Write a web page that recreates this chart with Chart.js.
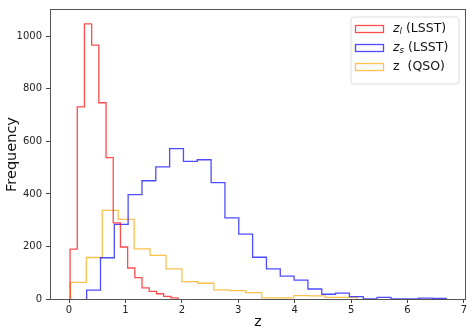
<!DOCTYPE html>
<html>
<head>
<meta charset="utf-8">
<script src="https://cdn.jsdelivr.net/npm/chart.js@4/dist/chart.umd.min.js"></script>
<style>
  html, body { margin: 0; padding: 0; background: #ffffff; }
  #c { display: block; }
</style>
</head>
<body>
<canvas id="c" width="474" height="333"></canvas>
<script>
// ---- data ----
const lensStart = 0.018, lensWidth = 0.1276;
const lensCounts = [190, 731, 1047, 966, 747, 538, 290, 198, 118, 81, 42, 29, 20, 10, 4];

const sourceStart = 0.312, sourceWidth = 0.2452;
const sourceCounts = [34, 157, 284, 397, 450, 503, 572, 524, 530, 443, 309, 247, 159,
                      115, 87, 72, 38, 18, 22, 9, 0, 6, 0, 0, 3, 2];

const qsoStart = 0.023, qsoWidth = 0.2827;
const qsoCounts = [63, 158, 337, 303, 191, 166, 115, 66, 60, 35, 32, 24, 4, 4, 13, 12, 6, 6];

const xTickValues = [0, 1, 2, 3, 4, 5, 6, 7];
const yTickValues = [0, 200, 400, 600, 800, 1000];
const xAxisTitle = 'z';
const yAxisTitle = 'Frequency';
const legendEntries = [
  { base: 'z', sub: 'l', rest: ' (LSST)' },
  { base: 'z', sub: 's', rest: ' (LSST)' },
  { base: 'z  (QSO)', sub: '', rest: '' }
];
const seriesColors = ['rgba(255,0,0,0.7)', 'rgba(0,0,255,0.7)', 'rgba(255,165,0,0.7)'];

// build step-outline points (matplotlib histtype='step')
function stepPoints(start, width, counts) {
  const pts = [{ x: start, y: 0 }];
  counts.forEach((c, i) => pts.push({ x: start + i * width, y: c }));
  pts.push({ x: start + counts.length * width, y: 0 });
  return pts;
}

const FONT = "'DejaVu Sans', sans-serif";

const framePlugin = {
  id: 'frame',
  afterDatasetsDraw(chart) {
    const { ctx, chartArea: a } = chart;
    ctx.save();
    ctx.strokeStyle = '#555';
    ctx.lineWidth = 1;
    ctx.strokeRect(Math.round(a.left) - 0.5, Math.round(a.top) - 0.5,
                   Math.round(a.right - a.left) + 1, Math.round(a.bottom - a.top) + 1);
    ctx.restore();
  }
};

const legendPlugin = {
  id: 'mplLegend',
  afterDraw(chart) {
    const { ctx, chartArea: a } = chart;
    const bx = a.right - 114, by = a.top + 7, bw = 108, bh = 67, r = 3;
    ctx.save();
    ctx.beginPath();
    ctx.moveTo(bx + r, by);
    ctx.arcTo(bx + bw, by, bx + bw, by + bh, r);
    ctx.arcTo(bx + bw, by + bh, bx, by + bh, r);
    ctx.arcTo(bx, by + bh, bx, by, r);
    ctx.arcTo(bx, by, bx + bw, by, r);
    ctx.closePath();
    ctx.fillStyle = 'rgba(255,255,255,0.8)';
    ctx.fill();
    ctx.strokeStyle = '#dcdcdc';
    ctx.lineWidth = 1;
    ctx.stroke();

    const fs = 12.5;
    legendEntries.forEach((e, i) => {
      const cy = by + 12 + i * 19;
      ctx.strokeStyle = seriesColors[i];
      ctx.lineWidth = 1.3;
      ctx.strokeRect(bx + 4.5, cy - 3.5, 28, 7);
      let tx = bx + 42;
      ctx.fillStyle = '#111';
      ctx.textBaseline = 'middle';
      ctx.textAlign = 'left';
      if (e.sub) {
        ctx.font = 'italic ' + fs + 'px ' + FONT;
        ctx.fillText(e.base, tx, cy);
        tx += ctx.measureText(e.base).width;
        ctx.font = 'italic ' + (fs * 0.7) + 'px ' + FONT;
        ctx.fillText(e.sub, tx, cy + 3);
        tx += ctx.measureText(e.sub).width;
        ctx.font = fs + 'px ' + FONT;
        ctx.fillText(e.rest, tx, cy);
      } else {
        ctx.font = fs + 'px ' + FONT;
        ctx.fillText(e.base, tx, cy);
      }
    });
    ctx.restore();
  }
};

const tickFont = { family: FONT, size: 10 };

new Chart(document.getElementById('c'), {
  type: 'line',
  data: {
    datasets: [
      { label: 'z_l (LSST)', data: stepPoints(lensStart, lensWidth, lensCounts), borderColor: seriesColors[0] },
      { label: 'z_s (LSST)', data: stepPoints(sourceStart, sourceWidth, sourceCounts), borderColor: seriesColors[1] },
      { label: 'z (QSO)', data: stepPoints(qsoStart, qsoWidth, qsoCounts), borderColor: seriesColors[2] }
    ].map(d => Object.assign(d, { stepped: 'before', borderWidth: 1.3, pointRadius: 0, fill: false, tension: 0 }))
  },
  options: {
    responsive: false,
    animation: false,
    events: [],
    layout: { padding: { top: 6, right: 9, left: 0, bottom: 0 } },
    plugins: { legend: { display: false }, tooltip: { enabled: false } },
    scales: {
      x: {
        type: 'linear',
        min: -0.32, max: 7.02,
        afterBuildTicks: s => { s.ticks = xTickValues.map(v => ({ value: v })); },
        afterFit: s => { s.height = 34; },
        grid: { display: true, drawOnChartArea: false, drawTicks: true, tickLength: 4, color: '#444' },
        border: { display: false },
        ticks: { font: tickFont, color: '#222', padding: 1, maxRotation: 0, autoSkip: false, callback: v => String(v) },
        title: { display: true, text: xAxisTitle, font: { family: FONT, size: 14 }, color: '#111', padding: { top: 0, bottom: 2 } }
      },
      y: {
        type: 'linear',
        min: 0, max: 1100,
        afterBuildTicks: s => { s.ticks = yTickValues.map(v => ({ value: v })); },
        afterFit: s => { s.width = 51; },
        grid: { display: true, drawOnChartArea: false, drawTicks: true, tickLength: 5, color: '#444' },
        border: { display: false },
        ticks: { font: tickFont, color: '#222', padding: 4, autoSkip: false, callback: v => String(v) },
        title: { display: true, text: yAxisTitle, font: { family: FONT, size: 14.5 }, color: '#111', padding: { top: 4, bottom: 0 } }
      }
    }
  },
  plugins: [framePlugin, legendPlugin]
});
</script>
</body>
</html>
